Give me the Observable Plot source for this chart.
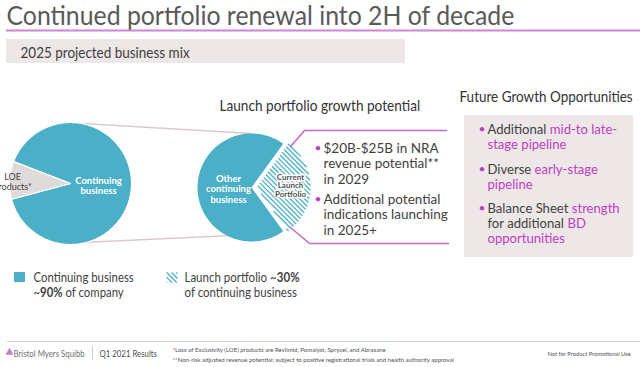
<!DOCTYPE html>
<html><head><meta charset="utf-8">
<script src="https://cdn.jsdelivr.net/npm/d3@7"></script>
<script src="https://cdn.jsdelivr.net/npm/@observablehq/plot@0.6"></script>
<style>html,body{margin:0;padding:0;background:#fff;} #chart{width:640px;height:367px;overflow:hidden;}</style>
</head><body><div id="chart"></div>
<script>
// ---------- data ----------
const businessMix = ["Continuing business", "LOE products*"];
const businessShare = [90, 10];
const launchMix = ["Other continuing business", "Current Launch Portfolio"];
const launchShare = [70, 30];

const titleText = "Continued portfolio renewal into 2H of decade";
const subtitleText = "2025 projected business mix";
const launchHeading = "Launch portfolio growth potential";
const futureHeading = "Future Growth Opportunities";
const loeLabel = ["LOE", "Products*"];
const contLabel = ["Continuing", "business"];
const otherLabel = ["Other", "continuing", "business"];
const currentLabel = ["Current", "Launch", "Portfolio"];
const launchBullets = [["$20B-$25B in NRA", "revenue potential**", "in 2029"], ["Additional potential", "indications launching", "in 2025+"]];
const futureBullets = [
  [[["Additional ", 0], ["mid-to late-", 1]], [["stage pipeline", 1]]],
  [[["Diverse ", 0], ["early-stage", 1]], [["pipeline", 1]]],
  [[["Balance Sheet ", 0], ["strength", 1]], [["for additional ", 0], ["BD", 1]], [["opportunities", 1]]]
];
const legendA = [[["Continuing business", 0]], [["~", 0], ["90%", 2], [" of company", 0]]];
const legendB = [[["Launch portfolio ~", 0], ["30%", 2]], [["of continuing business", 0]]];
const footerBrand = "Bristol Myers Squibb";
const footerDeck = "Q1 2021 Results";
const footnotes = ["*Loss of Exclusivity (LOE) products are Revlimid, Pomalyst, Sprycel, and Abraxane",
  "**Non-risk adjusted revenue potential; subject to positive registrational trials and health authority approval"];
const footerRight = "Not for Product Promotional Use";

// ---------- style ----------
const FONT = "Lato, 'Open Sans', sans-serif";
const BLUE = "#4bafc8", LOEGRAY = "#dfdbdb", BOX = "#ede7e7", PURPLE = "#bd3ec3",
      TXT = "#3f3f3f", TITLE = "#595959", LINK = "#dacbcb";
const W = 640, H = 367;

const ctx = document.createElement("canvas").getContext("2d");
function measure(t, size, weight) { ctx.font = `${weight} ${size}px ${FONT}`; return ctx.measureText(t).width; }
const sxMap = new Map(); // text -> horizontal condensing factor

function lines(arr, o) {
  arr.forEach(t => sxMap.set(t, o.sx ?? 1));
  return Plot.text(arr, {x: () => o.x, y: (d, i) => o.y + i * o.lh, text: d => d,
    fontSize: o.size, fill: o.fill ?? TXT, fontWeight: o.weight ?? "normal",
    textAnchor: o.anchor ?? "start", lineAnchor: "bottom",
    stroke: o.halo ?? null, strokeWidth: o.halo ? 3 : undefined, paintOrder: "stroke"});
}
// rich lines: segments [text, style] style 0=gray,1=purple,2=bold gray
function rich(rowsSegs, o) {
  const out = [], sx = o.sx ?? 1;
  rowsSegs.forEach((segs, r) => {
    let cx = o.x;
    segs.forEach(([t, s]) => {
      const weight = s === 2 ? "bold" : "normal";
      out.push({t, s, x: cx, y: o.y + r * o.lh});
      sxMap.set(t, sx);
      cx += measure(t, o.size, weight) * sx;
    });
  });
  return [0, 1, 2].map(s => Plot.text(out.filter(d => d.s === s), {x: "x", y: "y", text: "t",
    fontSize: o.size, fill: s === 1 ? PURPLE : TXT, fontWeight: s === 2 ? "bold" : "normal",
    textAnchor: "start", lineAnchor: "bottom"}));
}

function pieSlices(labels, values, {cx, cy, r, startDeg, explode = []}) {
  const s0 = startDeg * Math.PI / 180;
  const arcs = d3.pie().sort(null).startAngle(s0).endAngle(s0 + 2 * Math.PI)(values);
  return arcs.map((a, k) => {
    const mid = (a.startAngle + a.endAngle) / 2, off = explode[k] ?? 0;
    const ox = cx + off * Math.sin(mid), oy = cy - off * Math.cos(mid);
    const pts = [{x: ox, y: oy}];
    const n = Math.max(4, Math.ceil((a.endAngle - a.startAngle) / 0.02));
    for (let i = 0; i <= n; i++) {
      const t = a.startAngle + (a.endAngle - a.startAngle) * i / n;
      pts.push({x: ox + r * Math.sin(t), y: oy - r * Math.cos(t)});
    }
    return {label: labels[k], pts};
  });
}

// diagonal hatch stripes ("\" direction) clipped to a convex polygon
const STRIPE_STEP = 3.4 * Math.SQRT2;
function hatchSegments(poly) {
  const n = poly.length;
  let A = 0;
  for (let i = 0; i < n; i++) { const a = poly[i], b = poly[(i + 1) % n]; A += a.x * b.y - b.x * a.y; }
  const s = Math.sign(A);
  const cs = poly.map(p => p.x - p.y);
  const cmin = Math.ceil(d3.min(cs) / STRIPE_STEP), cmax = Math.floor(d3.max(cs) / STRIPE_STEP);
  const segs = [];
  for (let k = cmin; k <= cmax; k++) {
    const c = k * STRIPE_STEP, p0 = {x: c, y: 0}, d = {x: 1, y: 1};
    let t0 = -Infinity, t1 = Infinity, ok = true;
    for (let i = 0; i < n && ok; i++) {
      const a = poly[i], b = poly[(i + 1) % n];
      const ex = b.x - a.x, ey = b.y - a.y;
      if (Math.abs(ex) + Math.abs(ey) < 1e-9) continue;
      const nx = -ey * s, ny = ex * s;
      const num = nx * (p0.x - a.x) + ny * (p0.y - a.y), den = nx * d.x + ny * d.y;
      if (Math.abs(den) < 1e-12) { if (num < 0) ok = false; continue; }
      const t = -num / den;
      if (den > 0) t0 = Math.max(t0, t); else t1 = Math.min(t1, t);
    }
    if (ok && t1 > t0) segs.push({x1: p0.x + t0, y1: p0.y + t0, x2: p0.x + t1, y2: p0.y + t1});
  }
  return segs;
}

const pie1 = {cx: 70, cy: 183, r: 61, startDeg: 291};
const pie2 = {cx: 251, cy: 187, r: 54, startDeg: 144, explode: [0, 5]};
const slices1 = pieSlices(businessMix, businessShare, pie1);
const slices2 = pieSlices(launchMix, launchShare, pie2);
const launchStripes = hatchSegments(slices2[1].pts);
const legendSwatchB = [{x: 166, y: 272}, {x: 177, y: 272}, {x: 177, y: 282}, {x: 166, y: 282}];
const legendStripes = hatchSegments(legendSwatchB);

const links = [
  {x1: pie1.cx + 12, y1: pie1.cy - pie1.r + 1, x2: pie2.cx, y2: pie2.cy - pie2.r},
  {x1: pie1.cx + 12, y1: pie1.cy + pie1.r - 2, x2: pie2.cx - 20, y2: pie2.cy + pie2.r - 6}
];
const bracket = [
  {k: 0, x: 290, y: 146}, {k: 0, x: 304, y: 130}, {k: 0, x: 446, y: 130},
  {k: 1, x: 290, y: 227}, {k: 1, x: 309, y: 243}, {k: 1, x: 448, y: 243}
];

const marks = [
  // title + rule
  lines([titleText], {x: 6, y: 24, lh: 0, size: 26, fill: TITLE, sx: 0.955}),
  Plot.ruleY([30], {x1: 6, x2: W, stroke: "#d184d7", strokeWidth: 2}),
  Plot.rect([0], {x1: 6, x2: 405, y1: 39, y2: 63, fill: BOX}),
  lines([subtitleText], {x: 20, y: 57, lh: 0, size: 15.5, fill: TXT, sx: 0.87}),
  // connectors
  Plot.link(links, {x1: "x1", y1: "y1", x2: "x2", y2: "y2", stroke: LINK, strokeWidth: 1.5}),
  // pies
  ...slices1.map((s, k) => Plot.line(s.pts.concat([s.pts[0]]), {x: "x", y: "y", curve: "linear", fill: k === 0 ? BLUE : LOEGRAY,
     stroke: "white", strokeWidth: 1.2})),
  Plot.line(slices2[0].pts.concat([slices2[0].pts[0]]), {x: "x", y: "y", curve: "linear", fill: BLUE, stroke: "none"}),
  Plot.link(launchStripes, {x1: "x1", y1: "y1", x2: "x2", y2: "y2", stroke: BLUE, strokeWidth: 1.3}),
  // bracket
  Plot.line(bracket, {x: "x", y: "y", z: "k", stroke: "#c468ca", strokeWidth: 1.5}),
  // pie labels
  lines(loeLabel, {x: 12, y: 179, lh: 10, size: 9, anchor: "middle"}),
  lines(contLabel, {x: 98, y: 183, lh: 10, size: 9.5, fill: "white", weight: "bold", anchor: "middle"}),
  lines(otherLabel, {x: 228, y: 181, lh: 10.5, size: 9.5, fill: "white", weight: "bold", anchor: "middle"}),
  lines(currentLabel, {x: 290, y: 179, lh: 8.8, size: 8, fill: "#505050", weight: "bold", anchor: "middle", halo: "white"}),
  // headings
  lines([launchHeading], {x: 219, y: 110, lh: 0, size: 14.5, sx: 0.94, fill: "#333333"}),
  lines([futureHeading], {x: 459, y: 101, lh: 0, size: 14.5, sx: 0.93, fill: "#333333"}),
  // launch bullets
  Plot.text([0, 1], {x: () => 314, y: (d, i) => [151, 202][i], text: () => "•", fill: PURPLE, fontSize: 12, lineAnchor: "bottom", textAnchor: "start"}),
  lines(launchBullets[0], {x: 323, y: 152, lh: 15.6, size: 13, sx: 1.04}),
  lines(launchBullets[1], {x: 323, y: 203, lh: 15.6, size: 13, sx: 1.04}),
  // future box
  Plot.rect([0], {x1: 464, x2: 633, y1: 115, y2: 257, fill: BOX}),
  Plot.text([0, 1, 2], {x: () => 478, y: (d, i) => [132, 172, 211][i], text: () => "•", fill: PURPLE, fontSize: 12, lineAnchor: "bottom", textAnchor: "start"}),
  ...rich(futureBullets[0], {x: 487, y: 133, lh: 15, size: 14, sx: 0.935}),
  ...rich(futureBullets[1], {x: 487, y: 173, lh: 15, size: 14, sx: 0.935}),
  ...rich(futureBullets[2], {x: 487, y: 212, lh: 15, size: 14, sx: 0.935}),
  // legend
  Plot.rect([0], {x1: 14, x2: 25, y1: 272, y2: 282, fill: BLUE}),
  Plot.link(legendStripes, {x1: "x1", y1: "y1", x2: "x2", y2: "y2", stroke: BLUE, strokeWidth: 1.3}),
  ...rich(legendA, {x: 33, y: 281, lh: 15, size: 12.5, sx: 0.91}),
  ...rich(legendB, {x: 184, y: 281, lh: 15, size: 12.5, sx: 0.92}),
  // footer
  Plot.ruleY([341], {x1: 7, x2: W, stroke: "#d4d4d4", strokeWidth: 1}),
  Plot.dot([0], {x: () => 9, y: () => 352, symbol: "triangle", r: 3, fill: "#c77dd0"}),
  lines([footerBrand], {x: 13, y: 356, lh: 0, size: 9, fill: "#707070", sx: 0.87}),
  Plot.ruleX([92], {y1: 346, y2: 360, stroke: "#cfcfcf"}),
  lines([footerDeck], {x: 99, y: 356, lh: 0, size: 9, fill: "#505050", sx: 0.87}),
  lines(footnotes, {x: 172, y: 351, lh: 10, size: 6.5, fill: "#505050", sx: 0.93}),
  lines([footerRight], {x: 547, y: 355, lh: 0, size: 6.5, fill: "#505050", sx: 0.89})
];

const chart = Plot.plot({
  width: W, height: H, margin: 0,
  x: {domain: [0, W], range: [0, W], axis: null},
  y: {domain: [0, H], range: [0, H], axis: null},
  style: {fontFamily: FONT, background: "white", overflow: "hidden"},
  marks
});
const svg = chart.tagName.toLowerCase() === "svg" ? chart : chart.querySelector("svg");
// horizontal condensing of text to mimic the slide's narrow typeface
svg.querySelectorAll("text").forEach(t => {
  const sx = sxMap.get(t.textContent);
  if (!sx || sx === 1) return;
  const tr = t.getAttribute("transform");
  if (tr) t.setAttribute("transform", tr + ` scale(${sx},1)`);
  else {
    const x = +(t.getAttribute("x") || 0);
    t.setAttribute("transform", `translate(${x},0) scale(${sx},1)`);
    t.setAttribute("x", 0);
  }
});
document.getElementById("chart").appendChild(chart);
</script></body></html>
